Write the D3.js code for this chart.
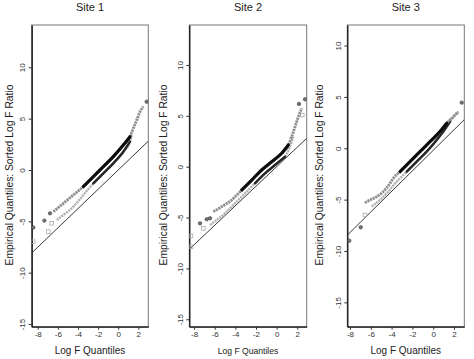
<!DOCTYPE html>
<html>
<head>
<meta charset="utf-8">
<script src="https://cdn.jsdelivr.net/npm/d3@7"></script>
<style>
  body { margin: 0; background: #fff; }
  svg { display: block; font-family: "Liberation Sans", Arial, sans-serif; }
</style>
</head>
<body>
<div id="chart"></div>
<script>
// panel titles and axis text
var sites = ["Site 1", "Site 2", "Site 3"];
var xTitle = "Log F Quantiles";
var yTitle = "Empirical Quantiles: Sorted Log F Ratio";
var xTickValues = [-8, -6, -4, -2, 0, 2];
var yTickValues = [-15, -10, -5, 0, 5, 10];

// axis ranges (data units)
var xDomains = [[-8.6, 2.99], [-8.46, 2.91], [-8.26, 2.99]];
var yDomains = [[-15.26, 14.12], [-15.73, 13.93], [-17.37, 12.0]];

// reference line y = a + b x
var lineIntercept = [0, 0, -0.2];
var lineSlope = [0.94, 0.96, 1.0];

// upper (darker, round symbols) sorted quantiles
var upperStream = [
  [[-6.45,-4.06],[-5.45,-3.25],[-4.46,-2.43],[-3.47,-1.62],[-2.47,-0.65],[-1.48,0.32],[-0.49,1.3],[0.51,2.43],[1.17,3.24],[1.5,4.06],[1.84,4.87],[2.17,5.68],[2.5,6.16]],
  [[-6.13,-4.42],[-5.32,-3.93],[-4.35,-3.27],[-3.38,-2.29],[-2.41,-1.31],[-1.45,-0.32],[-0.48,0.49],[0.49,1.32],[1.13,2.13],[1.46,2.95],[1.78,3.93],[2.1,4.92],[2.43,5.74]],
  [[-6.56,-5.3],[-6.08,-5.03],[-5.43,-4.71],[-4.8,-4.22],[-4.15,-3.41],[-3.84,-2.92],[-3.19,-2.28],[-2.23,-1.3],[-1.27,-0.33],[-0.31,0.64],[0.65,1.62],[1.3,2.43],[1.94,3.08],[2.42,3.56]]
];
var upperOutliers = [
  [[-8.44,-5.6],[-7.34,-4.93],[-6.78,-4.22],[2.83,6.65]],
  [[-7.42,-5.57],[-6.77,-5.17],[-6.45,-5.07],[2.16,6.17],[2.75,6.63]],
  [[-8.07,-9.0],[-6.97,-7.69],[2.74,4.44]]
];
var upperCore = [[-3.8, 1.3], [-3.5, 1.2], [-3.3, 1.4]];

// lower (lighter, square symbols) sorted quantiles
var lowerStream = [
  [[-6.11,-4.87],[-5.45,-4.38],[-4.46,-3.57],[-3.47,-2.43],[-2.47,-1.3],[-1.48,-0.32],[-0.49,0.65],[0.51,1.78],[1.17,2.76],[1.34,3.4]],
  [[-6.45,-5.73],[-5.8,-5.24],[-5.0,-4.58],[-4.03,-3.6],[-3.06,-2.62],[-2.1,-1.63],[-1.13,-0.65],[-0.16,0.16],[0.81,0.98],[1.29,1.97],[1.61,2.95]],
  [[-5.91,-5.68],[-5.12,-5.03],[-4.32,-4.22],[-3.51,-3.25],[-2.55,-2.28],[-1.59,-1.3],[-0.63,-0.33],[0.34,0.81],[0.97,1.62],[1.62,2.59],[2.1,3.24],[2.42,3.5]]
];
var lowerOutliers = [
  [[-8.44,-6.98],[-6.95,-6.0],[-6.61,-5.19]],
  [[-8.29,-7.87],[-8.29,-6.81],[-7.1,-6.06],[2.48,5.08]],
  [[-6.56,-6.49]]
];
var lowerCore = [[-3.3, 1.2], [-3.0, 1.0], [-3.0, 1.8]];

// layout
var W = 474, H = 359;
var plotTop = 25, plotBottom = 326.7;
var boxes = [[31.7, 148.3], [189.3, 306.7], [347.3, 464.3]];
var yTitleX = [9.3, 163.3, 319.3];
var xTitleSize = [10, 8.6, 10];

var svg = d3.select("#chart").append("svg")
    .attr("width", W).attr("height", H);

sites.forEach(function(site, i) {
  var x = d3.scaleLinear().domain(xDomains[i]).range(boxes[i]);
  var y = d3.scaleLinear().domain(yDomains[i]).range([plotBottom, plotTop]);
  var g = svg.append("g");
  var cx = (boxes[i][0] + boxes[i][1]) / 2;

  // title
  g.append("text")
      .attr("x", cx).attr("y", 10.5)
      .attr("text-anchor", "middle")
      .attr("font-size", 11)
      .attr("fill", "#222")
      .text(site);

  // frame
  g.append("rect")
      .attr("x", boxes[i][0]).attr("y", plotTop)
      .attr("width", boxes[i][1] - boxes[i][0])
      .attr("height", plotBottom - plotTop)
      .attr("fill", "none")
      .attr("stroke", "#777")
      .attr("stroke-width", 1);

  // x axis
  var xAxis = g.append("g")
      .attr("transform", "translate(0," + plotBottom + ")")
      .call(d3.axisBottom(x).tickValues(xTickValues).tickSize(3).tickSizeOuter(0).tickPadding(2));
  xAxis.select(".domain").attr("stroke", "#111").attr("stroke-width", 1.3);
  xAxis.selectAll(".tick line").attr("stroke", "#333");
  xAxis.selectAll(".tick text")
      .attr("font-size", 8)
      .attr("fill", "#333")
      .attr("font-family", "Liberation Sans, Arial, sans-serif")
      .text(function(d) { return d < 0 ? "-" + Math.abs(d) : d; });

  // y axis with rotated labels
  var yAxis = g.append("g")
      .attr("transform", "translate(" + boxes[i][0] + ",0)")
      .call(d3.axisLeft(y).tickValues(yTickValues).tickSize(3).tickSizeOuter(0));
  yAxis.select(".domain").attr("stroke", "#111").attr("stroke-width", 1.3);
  yAxis.selectAll(".tick line").attr("stroke", "#333");
  yAxis.selectAll(".tick text")
      .attr("font-size", 8)
      .attr("fill", "#333")
      .attr("font-family", "Liberation Sans, Arial, sans-serif")
      .attr("transform", "rotate(-90)")
      .attr("x", 0).attr("y", -6.3).attr("dy", null)
      .attr("text-anchor", "middle")
      .text(function(d) { return d < 0 ? "-" + Math.abs(d) : d; });

  // axis titles
  g.append("text")
      .attr("x", cx).attr("y", 353.5)
      .attr("text-anchor", "middle")
      .attr("font-size", xTitleSize[i])
      .attr("fill", "#222")
      .text(xTitle);
  g.append("text")
      .attr("transform", "translate(" + (yTitleX[i] + 3.5) + ",175) rotate(-90)")
      .attr("text-anchor", "middle")
      .attr("font-size", 10.3)
      .attr("fill", "#222")
      .text(yTitle);

  // reference line, clipped to the box
  var clipId = "clip" + i;
  g.append("clipPath").attr("id", clipId).append("rect")
      .attr("x", boxes[i][0]).attr("y", plotTop)
      .attr("width", boxes[i][1] - boxes[i][0])
      .attr("height", plotBottom - plotTop);
  var plot = g.append("g").attr("clip-path", "url(#" + clipId + ")");

  var xd = xDomains[i];
  plot.append("line")
      .attr("x1", x(xd[0])).attr("y1", y(lineIntercept[i] + lineSlope[i] * xd[0]))
      .attr("x2", x(xd[1])).attr("y2", y(lineIntercept[i] + lineSlope[i] * xd[1]))
      .attr("stroke", "#222")
      .attr("stroke-width", 0.9);

  var line = d3.line()
      .x(function(d) { return x(d[0]); })
      .y(function(d) { return y(d[1]); })
      .curve(d3.curveMonotoneX);

  function drawSeries(stream, core, outliers, light) {
    // sparse tails: a dotted grey trail of symbols
    plot.append("path")
        .attr("d", line(stream))
        .attr("fill", "none")
        .attr("stroke", light ? "#b4b4b4" : "#8e8e8e")
        .attr("stroke-width", light ? 2.4 : 2.8)
        .attr("stroke-dasharray", "2.2,0.7");
    // dense middle part: solid dark band
    var inner = stream.filter(function(d) { return d[0] >= core[0] && d[0] <= core[1]; });
    plot.append("path")
        .attr("d", line(inner))
        .attr("fill", "none")
        .attr("stroke", light ? "#262626" : "#0c0c0c")
        .attr("stroke-width", light ? 2.5 : 3.2)
        .attr("stroke-linecap", "round");
    if (light) {
      plot.selectAll(null).data(outliers).enter().append("rect")
          .attr("x", function(d) { return x(d[0]) - 1.8; })
          .attr("y", function(d) { return y(d[1]) - 1.8; })
          .attr("width", 3.6).attr("height", 3.6)
          .attr("fill", "none")
          .attr("stroke", "#aaa")
          .attr("stroke-width", 0.8);
    } else {
      plot.selectAll(null).data(outliers).enter().append("circle")
          .attr("cx", function(d) { return x(d[0]); })
          .attr("cy", function(d) { return y(d[1]); })
          .attr("r", 1.7)
          .attr("fill", "#777")
          .attr("stroke", "#444")
          .attr("stroke-width", 0.7);
    }
  }

  drawSeries(lowerStream[i], lowerCore[i], lowerOutliers[i], true);
  drawSeries(upperStream[i], upperCore[i], upperOutliers[i], false);
});
</script>
</body>
</html>
